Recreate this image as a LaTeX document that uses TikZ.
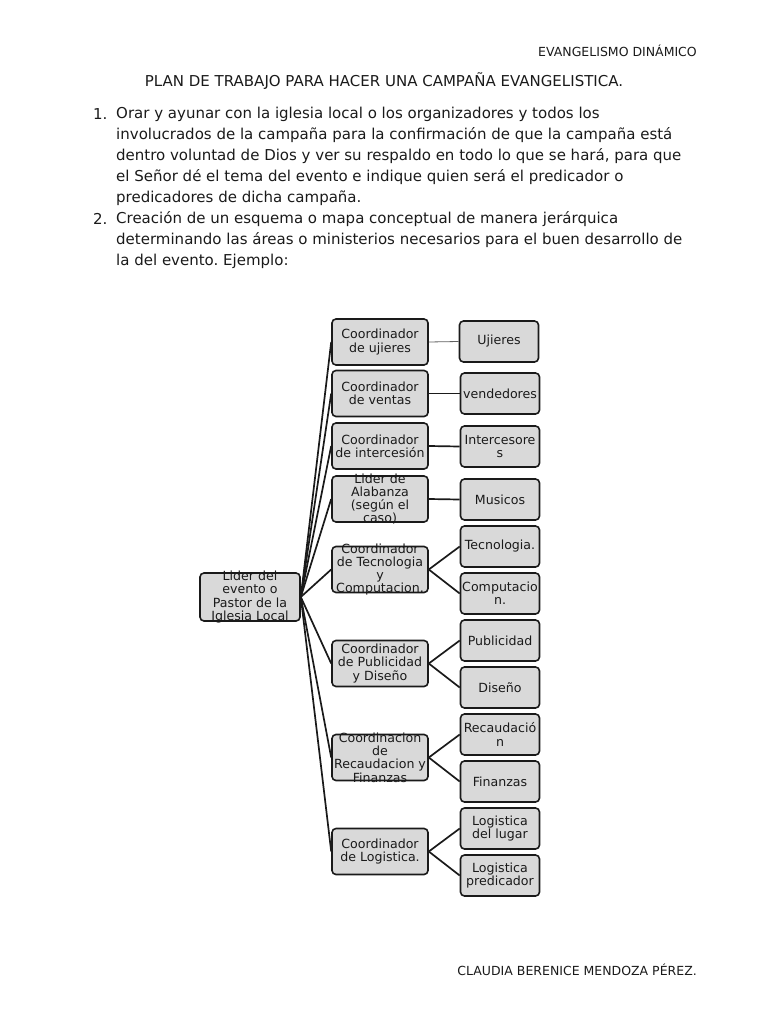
\documentclass[tikz,border=0pt]{standalone}
\usepackage{fontspec}
\setmainfont{DejaVu Sans}
\frenchspacing
\definecolor{cajagris}{HTML}{D9D9D9}
\definecolor{tinta}{HTML}{1A1A1A}

\begin{document}
\begin{tikzpicture}[x=1pt, y=-1pt,
  caja/.style={draw=tinta, fill=cajagris, line width=1.6pt, rounded corners=4pt,
    align=center, inner xsep=1pt, inner ysep=-8pt, text=tinta,
    font={\fontsize{12.6}{13.2}\selectfont}},
  jefe/.style={caja, minimum width=96pt, minimum height=46pt},
  area/.style={caja, minimum width=79pt, minimum height=41pt},
  enlace/.style={tinta, line width=1.7pt},
  parrafo/.style={inner sep=0pt, align=left, text=tinta,
    font={\fontsize{15}{21}\selectfont}}]
\useasboundingbox (0,0) rectangle (768,1024);

% encabezado
\node[anchor=base east, inner sep=0pt, text=tinta, font={\fontsize{12.5}{14}\selectfont}] (enc) at (697,57) {EVANGELISMO DINÁMICO};
\node[anchor=base, inner sep=0pt, text=tinta, font={\fontsize{15}{18}\selectfont}] (tit) at (384,87) {PLAN DE TRABAJO PARA HACER UNA CAMPAÑA EVANGELISTICA.};

\node[parrafo, anchor=base west] (n1) at (93,119.5) {1.};
\node[parrafo, anchor=north west] (p1) at (116,106.6) {Orar y ayunar con la iglesia local o los organizadores y todos los\\
involucrados de la campaña para la confirmación de que la campaña está\\
dentro voluntad de Dios y ver su respaldo en todo lo que se hará, para que\\
el Señor dé el tema del evento e indique quien será el predicador o\\
predicadores de dicha campaña.};
\node[parrafo, anchor=base west] (n2) at (93,224.5) {2.};
\node[parrafo, anchor=north west] (p2) at (116,211.6) {Creación de un esquema o mapa conceptual de manera jerárquica\\
determinando las áreas o ministerios necesarios para el buen desarrollo de\\
la del evento. Ejemplo:};

% mapa
\node[caja, minimum width=100pt, minimum height=48pt] (lid) at (250,597) {Lider del\\evento o\\Pastor de la\\Iglesia Local};

\node[jefe] (uji) at (380,342) {Coordinador\\de ujieres};
\node[jefe] (ven) at (380,393.5) {Coordinador\\de ventas};
\node[jefe] (int) at (380,446) {Coordinador\\de intercesión};
\node[jefe] (ala) at (380,499) {Lider de\\Alabanza\\(según el\\caso)};
\node[jefe] (tec) at (380,569.5) {Coordinador\\de Tecnologia\\y\\Computacion.};
\node[jefe] (pub) at (380,663.5) {Coordinador\\de Publicidad\\y Diseño};
\node[jefe] (rec) at (380,757.5) {Coordinacion\\de\\Recaudacion y\\Finanzas};
\node[jefe] (log) at (380,851.5) {Coordinador\\de Logistica.};

\node[area] (ujis) at (499,341.5) {Ujieres};
\node[area] (vend) at (500,393.5) {vendedores};
\node[area] (inte) at (500,446.5) {Intercesore\\s};
\node[area] (mus) at (500,499.5) {Musicos};
\node[area] (tecn) at (500,546.5) {Tecnologia.};
\node[area] (comp) at (500,593.5) {Computacio\\n.};
\node[area] (publ) at (500,640.5) {Publicidad};
\node[area] (dis) at (500,687.5) {Diseño};
\node[area] (reca) at (500,734.5) {Recaudació\\n};
\node[area] (fin) at (500,781.5) {Finanzas};
\node[area] (lugar) at (500,828.5) {Logistica\\del lugar};
\node[area] (pred) at (500,875.5) {Logistica\\predicador};

\foreach \j in {uji,ven,int,ala,tec,pub,rec,log} {
  \draw[enlace] (lid.east) -- (\j.west);
}

\draw[tinta!70, line width=0.8pt] (uji.east) -- (ujis.west);
\draw[enlace] (ven.east) -- (vend.west);
\draw[enlace] (int.east) -- (inte.west);
\draw[enlace] (ala.east) -- (mus.west);
\draw[enlace] (tec.east) -- (tecn.west);
\draw[enlace] (tec.east) -- (comp.west);
\draw[enlace] (pub.east) -- (publ.west);
\draw[enlace] (pub.east) -- (dis.west);
\draw[enlace] (rec.east) -- (reca.west);
\draw[enlace] (rec.east) -- (fin.west);
\draw[enlace] (log.east) -- (lugar.west);
\draw[enlace] (log.east) -- (pred.west);

\node[anchor=base east, inner sep=0pt, text=tinta, font={\fontsize{12.5}{14}\selectfont}] (pie) at (697,975) {CLAUDIA BERENICE MENDOZA PÉREZ.};
\end{tikzpicture}
\end{document}
